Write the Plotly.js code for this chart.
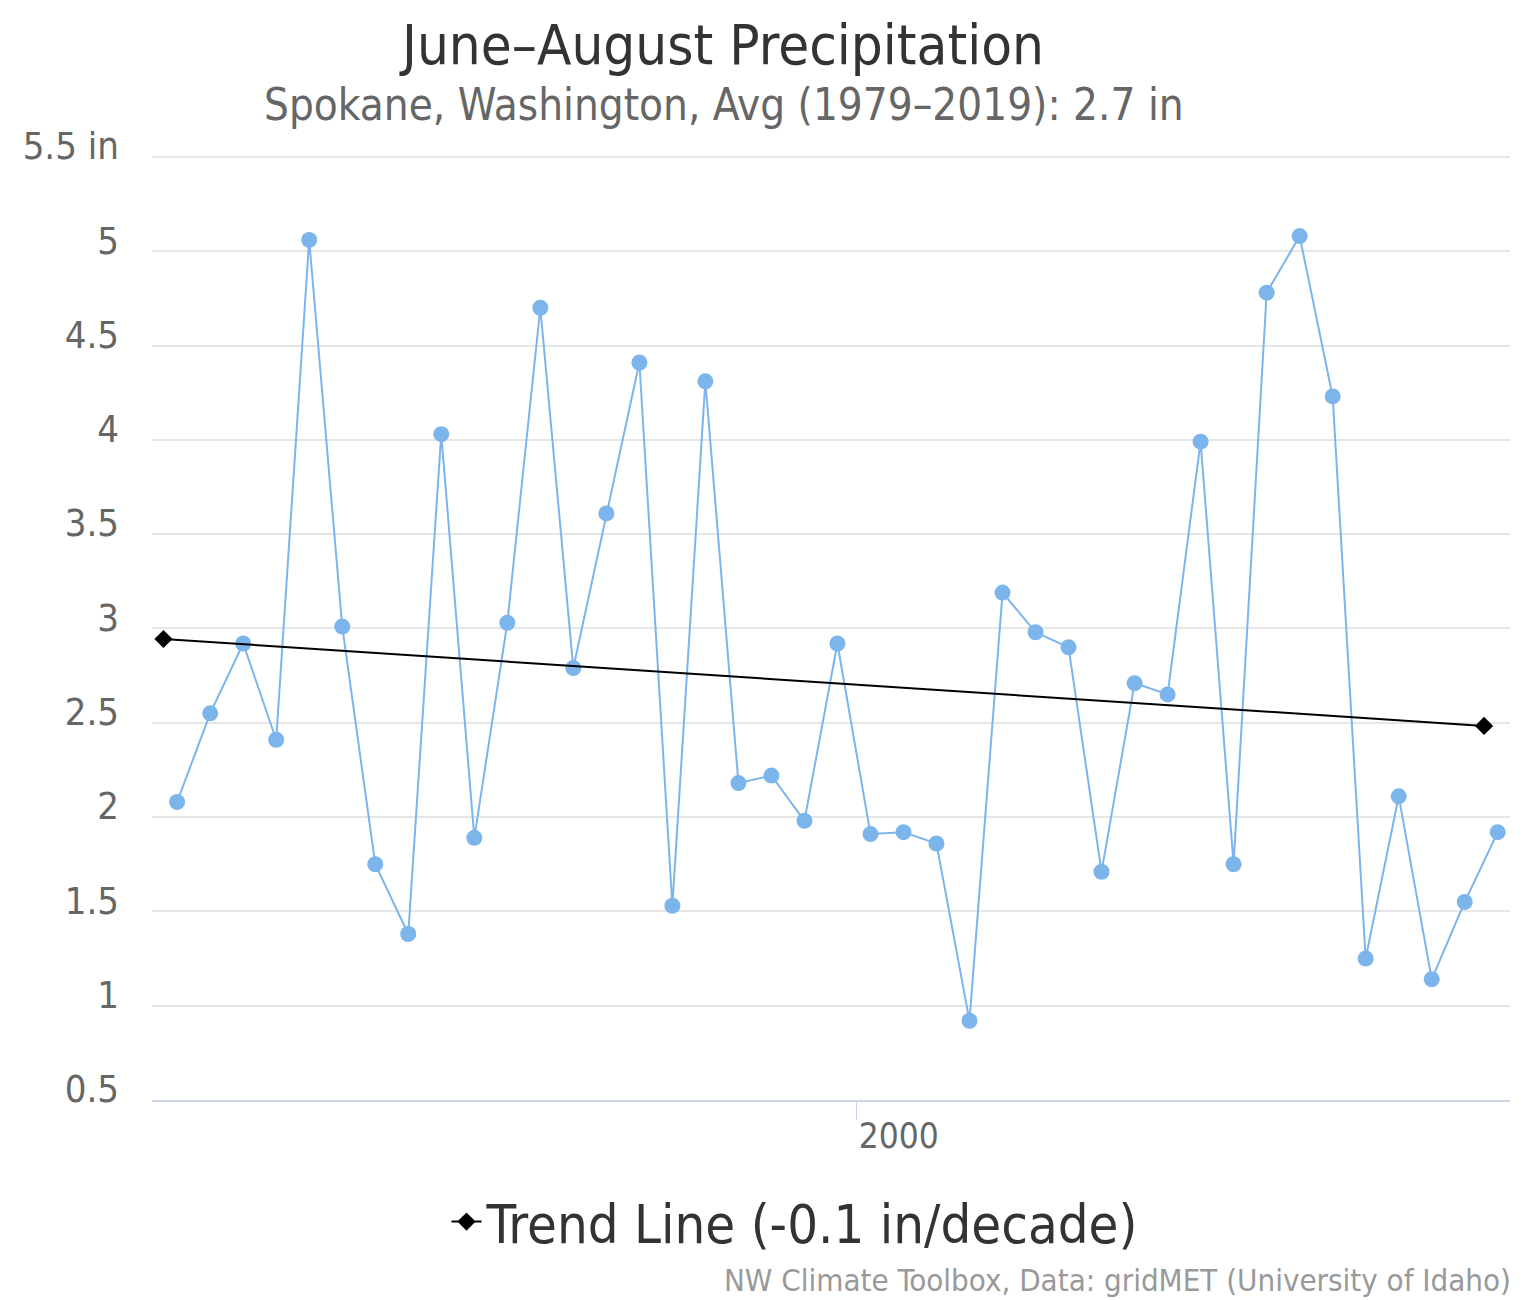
<!DOCTYPE html>
<html>
<head>
<meta charset="utf-8">
<script src="https://cdn.plot.ly/plotly-3.0.1.min.js"></script>
<style>
  html, body { margin: 0; padding: 0; background: #ffffff; }
  #chart { width: 1532px; height: 1300px; }
</style>
</head>
<body>
<div id="chart"></div>
<script>
// Spokane, WA — June–August total precipitation (inches), 1979–2019
const years = [
  1979, 1980, 1981, 1982, 1983, 1984, 1985, 1986, 1987, 1988,
  1989, 1990, 1991, 1992, 1993, 1994, 1995, 1996, 1997, 1998,
  1999, 2000, 2001, 2002, 2003, 2004, 2005, 2006, 2007, 2008,
  2009, 2010, 2011, 2012, 2013, 2014, 2015, 2016, 2017, 2018, 2019
];
const precip = [
  2.08, 2.55, 2.92, 2.41, 5.06, 3.01, 1.75, 1.38, 4.03, 1.89,
  3.03, 4.70, 2.79, 3.61, 4.41, 1.53, 4.31, 2.18, 2.22, 1.98,
  2.92, 1.91, 1.92, 1.86, 0.92, 3.19, 2.98, 2.90, 1.71, 2.71,
  2.65, 3.99, 1.75, 4.78, 5.08, 4.23, 1.25, 2.11, 1.14, 1.55, 1.92
];

// Linear trend endpoints
const trendYears = [1979, 2019];
const trendValues = [2.944, 2.483];

// Axis ticks
const yTickVals = [0.5, 1, 1.5, 2, 2.5, 3, 3.5, 4, 4.5, 5, 5.5];
const yTickText = ['0.5', '1', '1.5', '2', '2.5', '3', '3.5', '4', '4.5', '5', '5.5 in'];
const xTickYears = [2000];

const FONT = '"DejaVu Sans Condensed", "DejaVu Sans", sans-serif';

// Plot area in pixels, used to place the subtitle and credit line
const PLOT_LEFT = 152, PLOT_WIDTH = 1358, PLOT_TOP = 155, PLOT_HEIGHT = 945;

// Seasonal totals are placed at the start of the season (June 1)
const seasonDates = years.map(y => y + '-06-01');
const trendDates = trendYears.map(y => y + '-01-01');

const precipTrace = {
  type: 'scatter',
  mode: 'lines+markers',
  x: seasonDates,
  y: precip,
  name: 'Precipitation',
  showlegend: false,
  line: { color: '#7cb5ec', width: 2 },
  marker: { color: '#7cb5ec', size: 16, symbol: 'circle' },
  hoverinfo: 'x+y'
};

const trendTrace = {
  type: 'scatter',
  mode: 'lines+markers',
  x: trendDates,
  y: trendValues,
  name: 'Trend Line (-0.1 in/decade)',
  line: { color: '#000000', width: 2 },
  marker: { color: '#000000', size: 14, symbol: 'diamond' },
  hoverinfo: 'x+y'
};

const layout = {
  width: 1532,
  height: 1300,
  paper_bgcolor: '#ffffff',
  plot_bgcolor: '#ffffff',
  margin: { l: PLOT_LEFT, r: 1532 - PLOT_LEFT - PLOT_WIDTH, t: PLOT_TOP, b: 1300 - PLOT_TOP - PLOT_HEIGHT, pad: 0 },
  font: { family: FONT, color: '#666666' },
  title: {
    text: 'June–August Precipitation',
    font: { family: FONT, size: 56, color: '#333333' },
    xref: 'container', x: 723 / 1532, xanchor: 'center',
    yref: 'container', y: 1 - 44 / 1300, yanchor: 'middle'
  },
  xaxis: {
    type: 'date',
    range: ['1978-08-27', '2019-10-15'],
    tickvals: xTickYears.map(y => y + '-01-01'),
    ticktext: xTickYears.map(String),
    ticks: 'outside',
    ticklen: 18,
    tickcolor: '#ccd6eb',
    tickwidth: 1,
    ticklabelshift: 42,
    ticklabelstandoff: -14,
    tickfont: { family: FONT, size: 35, color: '#666666' },
    showgrid: false,
    showline: true,
    linecolor: '#ccd6eb',
    linewidth: 2,
    zeroline: false,
    fixedrange: true
  },
  yaxis: {
    // a little headroom above 5.5 keeps the top gridline drawn
    range: [0.5, 5.51],
    tickvals: yTickVals,
    ticktext: yTickText,
    ticks: '',
    ticklabelshift: -11,
    ticklabelstandoff: 32,
    tickfont: { family: FONT, size: 38, color: '#666666' },
    showgrid: true,
    gridcolor: '#e6e6e6',
    gridwidth: 2,
    showline: false,
    zeroline: false,
    fixedrange: true
  },
  showlegend: true,
  legend: {
    orientation: 'h',
    xref: 'container', x: 795 / 1532, xanchor: 'center',
    yref: 'container', y: 1 - 1222 / 1300, yanchor: 'middle',
    font: { family: FONT, size: 54, color: '#333333' },
    bgcolor: 'rgba(0,0,0,0)',
    itemclick: false,
    itemdoubleclick: false
  },
  annotations: [
    {
      text: 'Spokane, Washington, Avg (1979–2019): 2.7 in',
      xref: 'paper', yref: 'paper',
      x: (724 - PLOT_LEFT) / PLOT_WIDTH, y: 1 + (PLOT_TOP - 105) / PLOT_HEIGHT,
      xanchor: 'center', yanchor: 'middle',
      showarrow: false,
      font: { family: FONT, size: 43.6, color: '#666666' }
    },
    {
      text: 'NW Climate Toolbox, Data: gridMET (University of Idaho)',
      xref: 'paper', yref: 'paper',
      x: (1513 - PLOT_LEFT) / PLOT_WIDTH, y: -(1280 - PLOT_TOP - PLOT_HEIGHT) / PLOT_HEIGHT,
      xanchor: 'right', yanchor: 'middle',
      showarrow: false,
      font: { family: FONT, size: 31, color: '#999999' }
    }
  ]
};

Plotly.newPlot('chart', [precipTrace, trendTrace], layout, { displayModeBar: false, staticPlot: true });
</script>
</body>
</html>
